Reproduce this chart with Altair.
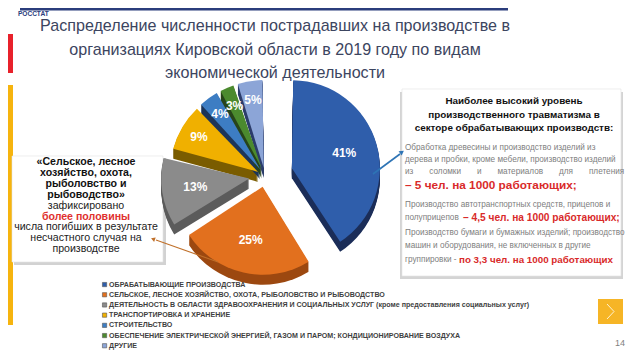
import math
import altair as alt
import pandas as pd

# ---------------- data ----------------
categories = [
    "ОБРАБАТЫВАЮЩИЕ ПРОИЗВОДСТВА",
    "СЕЛЬСКОЕ, ЛЕСНОЕ ХОЗЯЙСТВО, ОХОТА, РЫБОЛОВСТВО И РЫБОВОДСТВО",
    "ДЕЯТЕЛЬНОСТЬ В ОБЛАСТИ ЗДРАВООХРАНЕНИЯ И СОЦИАЛЬНЫХ УСЛУГ (кроме предоставления социальных услуг)",
    "ТРАНСПОРТИРОВКА И ХРАНЕНИЕ",
    "СТРОИТЕЛЬСТВО",
    "ОБЕСПЕЧЕНИЕ ЭЛЕКТРИЧЕСКОЙ ЭНЕРГИЕЙ, ГАЗОМ И ПАРОМ; КОНДИЦИОНИРОВАНИЕ ВОЗДУХА",
    "ДРУГИЕ",
]
shares = [41, 25, 13, 9, 4, 3, 5]

title_lines = [
    "Распределение численности пострадавших на производстве в",
    "организациях Кировской области в 2019 году по видам",
    "экономической деятельности",
]

# ---------------- style ----------------
colors = ["#2f5eab", "#e2701e", "#8b8b8b", "#f0b000", "#3d7dc3", "#4b8a2e", "#8ca5d7"]
dark = ["#1b2d58", "#9c4810", "#5b5b5b", "#7a5c00", "#1d3558", "#27441a", "#2b3c6a"]
FONT = "Liberation Sans"
TFONT = "Liberation Sans"
M = 8  # page margin
CX, CY, R, DEPTH = 265 - M, 176 - M, 88, 10

pie = pd.DataFrame({"cat": categories, "value": shares, "order": list(range(len(shares)))})
depth_df = pie.merge(pd.DataFrame({"d": list(range(1, DEPTH + 1))}), how="cross")


def pie_tf(ch, group):
    return (
        ch.transform_joinaggregate(total="sum(value)", groupby=group)
        .transform_window(cum="sum(value)", sort=[alt.SortField("order")], groupby=group, frame=[None, 0])
        .transform_calculate(t0="(datum.cum - datum.value)/datum.total", t1="datum.cum/datum.total")
        .transform_calculate(
            mid="PI*(datum.t0+datum.t1)",
            ex="datum.order == 0 ? 28 : datum.order == 1 ? 11 : datum.order == 2 ? 16 : 8",
        )
        .transform_calculate(
            px=f"{CX} + datum.ex*sin(datum.mid)",
            py=f"{CY} - datum.ex*cos(datum.mid)",
        )
    )


theta_scale = alt.Scale(domain=[0, 1], range=[0, 2 * math.pi])

depth_layer = pie_tf(alt.Chart(depth_df), ["d"]).transform_calculate(
    pyd="datum.py + datum.d"
).mark_arc(radius=R, padAngle=0.03).encode(
    theta=alt.Theta("t0:Q", scale=theta_scale),
    theta2="t1:Q",
    x=alt.X("px:Q", scale=None, axis=None),
    y=alt.Y("pyd:Q", scale=None, axis=None),
    color=alt.Color("cat:N", scale=alt.Scale(domain=categories, range=dark), legend=None),
)

top_layer = pie_tf(alt.Chart(pie), []).mark_arc(radius=R, padAngle=0.03).encode(
    theta=alt.Theta("t0:Q", scale=theta_scale),
    theta2="t1:Q",
    x=alt.X("px:Q", scale=None, axis=None),
    y=alt.Y("py:Q", scale=None, axis=None),
    color=alt.Color(
        "cat:N",
        scale=alt.Scale(domain=categories, range=colors),
        legend=alt.Legend(
            title=None, orient="none", legendX=93, legendY=273, symbolType="square",
            symbolSize=18, labelFontSize=7.1, labelFont=FONT, labelFontWeight="bold",
            labelColor="#3f3f3f", labelLimit=600, rowPadding=2.2, symbolStrokeColor="#555555",
            symbolStrokeWidth=0.6, labelOffset=1, padding=0,
        ),
    ),
)

label_layer = pie_tf(alt.Chart(pie), []).transform_calculate(
    rl=f"datum.value >= 10 ? {0.62 * R} : {0.78 * R}",
    lbl="datum.value + '%'",
).transform_calculate(
    lx="datum.px + datum.rl*sin(datum.mid)",
    ly="datum.py - datum.rl*cos(datum.mid)",
).mark_text(fontSize=12, fontWeight="bold", color="white", font=FONT).encode(
    x=alt.X("lx:Q", scale=None, axis=None),
    y=alt.Y("ly:Q", scale=None, axis=None),
    text="lbl:N",
)

# ---------------- decorations ----------------
base = alt.Chart(pd.DataFrame({"k": [0]}))


def rect(x1, y1, x2, y2, fill, stroke=None, sw=0):
    kw = dict(color=fill)
    if stroke:
        kw.update(stroke=stroke, strokeWidth=sw)
    return base.mark_rect(**kw).encode(
        x=alt.value(x1 - M), x2=alt.value(x2 - M), y=alt.value(y1 - M), y2=alt.value(y2 - M)
    )


def line(x1, y1, x2, y2, color, w=1.0):
    return base.mark_rule(color=color, strokeWidth=w).encode(
        x=alt.value(x1 - M), x2=alt.value(x2 - M), y=alt.value(y1 - M), y2=alt.value(y2 - M)
    )


def head(x, y, ang, color, size=30):
    return base.mark_point(shape="triangle-up", filled=True, size=size, angle=ang, color=color, opacity=1).encode(
        x=alt.value(x - M), y=alt.value(y - M)
    )


def txt(s, x, y, size, color, weight="normal", align="center", font=FONT):
    return base.mark_text(
        text=s, fontSize=size, color=color, fontWeight=weight, align=align, baseline="middle", font=font
    ).encode(x=alt.value(x - M), y=alt.value(y - M))


layers = []
# frame bars
layers += [rect(20, 8, 508, 10.5, "#2b3d7c")]
layers += [rect(8, 34, 13, 73, "#e8212b"), rect(8, 85, 13, 325, "#f6b40e")]
layers += [txt("РОССТАТ", 18, 13.5, 6.6, "#2b3d7c", "bold", "left")]

# title
for i, t in enumerate(title_lines):
    layers.append(txt(t, 275, 26 + 23.7 * i, 16.1, "#3c4560", font=TFONT))

# boxes
layers += [rect(14, 158, 166, 265, "#d2d2d2"), rect(12, 156, 163, 262, "white", "#e2e2e2", 0.6)]
layers += [rect(400, 92, 623, 279, "#d4d4d4"), rect(402, 89, 621, 276, "white", "#e2e2e2", 0.6)]

# pie
layers += [depth_layer, top_layer, label_layer]

# arrows
layers += [line(373, 174, 400, 154, "#2e74b5", 1.6), head(402, 152, 54, "#2e74b5", 28)]
layers += [line(218, 262, 156, 240, "#c0702a", 1.1), head(153, 239, 290, "#c0702a", 22)]

# left box text
left_lines = [
    ("«Сельское, лесное", "#111111", "bold"),
    ("хозяйство, охота,", "#111111", "bold"),
    ("рыболовство и", "#111111", "bold"),
    ("рыбоводство»", "#111111", "bold"),
    ("зафиксировано", "#222222", "normal"),
    ("более половины", "#e0312f", "bold"),
    ("числа погибших в результате", "#222222", "normal"),
    ("несчастного случая на", "#222222", "normal"),
    ("производстве", "#222222", "normal"),
]
for i, (t, c, w) in enumerate(left_lines):
    layers.append(txt(t, 86, 162 + 10.9 * i, 10.6, c, w))

# right box text
for i, t in enumerate([
    "Наиболее высокий уровень",
    "производственного травматизма в",
    "секторе  обрабатывающих производств:",
]):
    layers.append(txt(t, 514, 101 + 13.5 * i, 9.9, "#111111", "bold"))

G = "#808080"
RED = "#d92a2a"
NB = "\u00a0"
GS = 8.2
layers += [
    txt("Обработка древесины и производство изделий из", 405, 148, GS, G, align="left"),
    txt("дерева и пробки, кроме мебели, производство изделий", 405, 160, GS, G, align="left"),
    txt(f"из{NB*7}соломки{NB*7}и{NB*7}материалов{NB*7}для{NB*7}плетения", 405, 172, GS, G, align="left"),
    txt("–  5 чел. на 1000 работающих;", 405, 185, 11.8, RED, "bold", "left"),
    txt("Производство автотранспортных средств, прицепов и", 405, 205, GS, G, align="left"),
    txt("полуприцепов", 405, 218, GS, G, align="left"),
    txt("– 4,5 чел. на 1000 работающих;", 463, 218, 10.2, RED, "bold", "left"),
    txt("Производство бумаги и бумажных изделий; производство", 405, 233, GS, G, align="left"),
    txt("машин и оборудования, не включенных в другие", 405, 246, GS, G, align="left"),
    txt("группировки  -", 405, 260, GS, G, align="left"),
    txt("по 3,3 чел. на 1000 работающих", 459, 260, 9.8, RED, "bold", "left"),
]

# navigation button and page number
layers += [rect(598, 299, 623, 324, "#f6b526")]
layers += [line(607, 304, 614, 311.5, "#fff2cf", 1.0), line(614, 311.5, 607, 319, "#fff2cf", 1.0)]
layers += [txt("14", 620, 343, 9, "#7f7f7f")]

chart = (
    alt.layer(*layers)
    .resolve_scale(color="independent")
    .properties(width=640 - 2 * M, height=360 - 2 * M, padding=0, autosize="none", background="white")
    .configure_view(stroke=None)
)

chart.save("out.html", embed_options={"renderer": "svg", "actions": False})
